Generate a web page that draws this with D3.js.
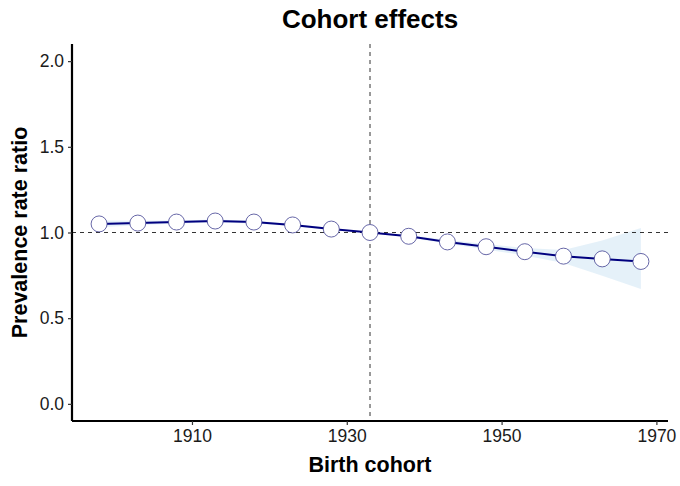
<!DOCTYPE html>
<html>
<head>
<meta charset="utf-8">
<script src="https://cdn.jsdelivr.net/npm/d3@7"></script>
<style>
  body { margin: 0; background: #fff; }
  text { font-family: "Liberation Sans", Arial, sans-serif; }
</style>
</head>
<body>
<div id="chart-area"></div>
<script>
// data
var cohorts = [1898, 1903, 1908, 1913, 1918, 1923, 1928, 1933, 1938, 1943, 1948, 1953, 1958, 1963, 1968];
var ratio   = [1.050, 1.055, 1.061, 1.067, 1.061, 1.044, 1.020, 1.000, 0.978, 0.945, 0.917, 0.888, 0.862, 0.846, 0.831];
var lower   = [1.030, 1.042, 1.052, 1.058, 1.053, 1.037, 1.014, 1.000, 0.971, 0.934, 0.901, 0.866, 0.822, 0.748, 0.671];
var upper   = [1.070, 1.068, 1.070, 1.076, 1.069, 1.051, 1.026, 1.000, 0.985, 0.956, 0.933, 0.910, 0.898, 0.953, 1.026];
var xTicks  = [1910, 1930, 1950, 1970];
var yTicks  = [0.0, 0.5, 1.0, 1.5, 2.0];
var refYear = 1933;

var width = 680, height = 486;
var margin = { left: 72, right: 12, top: 44, bottom: 65 };
var plotW = width - margin.left - margin.right;
var plotH = height - margin.top - margin.bottom;

var svg = d3.select("#chart-area")
    .append("svg")
        .attr("width", width)
        .attr("height", height);

var g = svg.append("g")
    .attr("transform", "translate(" + margin.left + "," + margin.top + ")");

// Scales (ggplot style 5% expansion)
var x = d3.scaleLinear()
    .domain([1894.5, 1971.5])
    .range([0, plotW]);
var y = d3.scaleLinear()
    .domain([-0.1, 2.1])
    .range([plotH, 0]);

var rows = cohorts.map(function(c, i) {
    return { year: c, r: ratio[i], lo: lower[i], hi: upper[i] };
});

// confidence ribbon
var area = d3.area()
    .x(function(d) { return x(d.year); })
    .y0(function(d) { return y(d.lo); })
    .y1(function(d) { return y(d.hi); });

g.append("path")
    .datum(rows)
    .attr("d", area)
    .attr("fill", "#c6dff2")
    .attr("opacity", 0.45);

// reference lines
g.append("line")
    .attr("x1", 0).attr("x2", plotW)
    .attr("y1", y(1)).attr("y2", y(1))
    .attr("stroke", "#333")
    .attr("stroke-width", 1)
    .attr("stroke-dasharray", "4,4");

g.append("line")
    .attr("x1", x(refYear)).attr("x2", x(refYear))
    .attr("y1", 0).attr("y2", plotH)
    .attr("stroke", "#333")
    .attr("stroke-width", 1)
    .attr("stroke-dasharray", "4,4");

// line
var line = d3.line()
    .x(function(d) { return x(d.year); })
    .y(function(d) { return y(d.r); });

g.append("path")
    .datum(rows)
    .attr("d", line)
    .attr("fill", "none")
    .attr("stroke", "#00007f")
    .attr("stroke-width", 2);

// points
g.selectAll("circle")
    .data(rows)
    .enter()
    .append("circle")
        .attr("cx", function(d) { return x(d.year); })
        .attr("cy", function(d) { return y(d.r); })
        .attr("r", 8)
        .attr("fill", "#fff")
        .attr("stroke", "#404090")
        .attr("stroke-width", 0.8);

// Axes
var xAxisCall = d3.axisBottom(x)
    .tickValues(xTicks)
    .tickSize(4)
    .tickPadding(5)
    .tickFormat(d3.format("d"));

var xAxis = g.append("g")
    .attr("transform", "translate(0," + plotH + ")")
    .call(xAxisCall);

var yAxisCall = d3.axisLeft(y)
    .tickValues(yTicks)
    .tickSize(4)
    .tickPadding(4)
    .tickFormat(d3.format(".1f"));

var yAxis = g.append("g")
    .call(yAxisCall);

[xAxis, yAxis].forEach(function(ax) {
    ax.select(".domain")
        .attr("stroke", "#000")
        .attr("stroke-width", 2.2)
        .attr("d", ax === xAxis ? "M0,0H" + plotW : "M0,0V" + plotH);
    ax.selectAll(".tick line").attr("stroke", "#333").attr("stroke-width", 1.2);
    ax.selectAll(".tick text")
        .attr("fill", "#1a1a1a")
        .attr("font-size", "17.5px")
        .attr("font-family", "'Liberation Sans', Arial, sans-serif");
});

// Labels
svg.append("text")
    .attr("x", margin.left + plotW / 2)
    .attr("y", 28)
    .attr("text-anchor", "middle")
    .attr("font-size", "26px")
    .attr("font-weight", "bold")
    .text("Cohort effects");

svg.append("text")
    .attr("x", margin.left + plotW / 2)
    .attr("y", 472)
    .attr("text-anchor", "middle")
    .attr("font-size", "21.5px")
    .attr("font-weight", "bold")
    .text("Birth cohort");

svg.append("text")
    .attr("transform", "rotate(-90)")
    .attr("x", -(margin.top + plotH / 2))
    .attr("y", 27)
    .attr("text-anchor", "middle")
    .attr("font-size", "21.5px")
    .attr("font-weight", "bold")
    .text("Prevalence rate ratio");
</script>
</body>
</html>
